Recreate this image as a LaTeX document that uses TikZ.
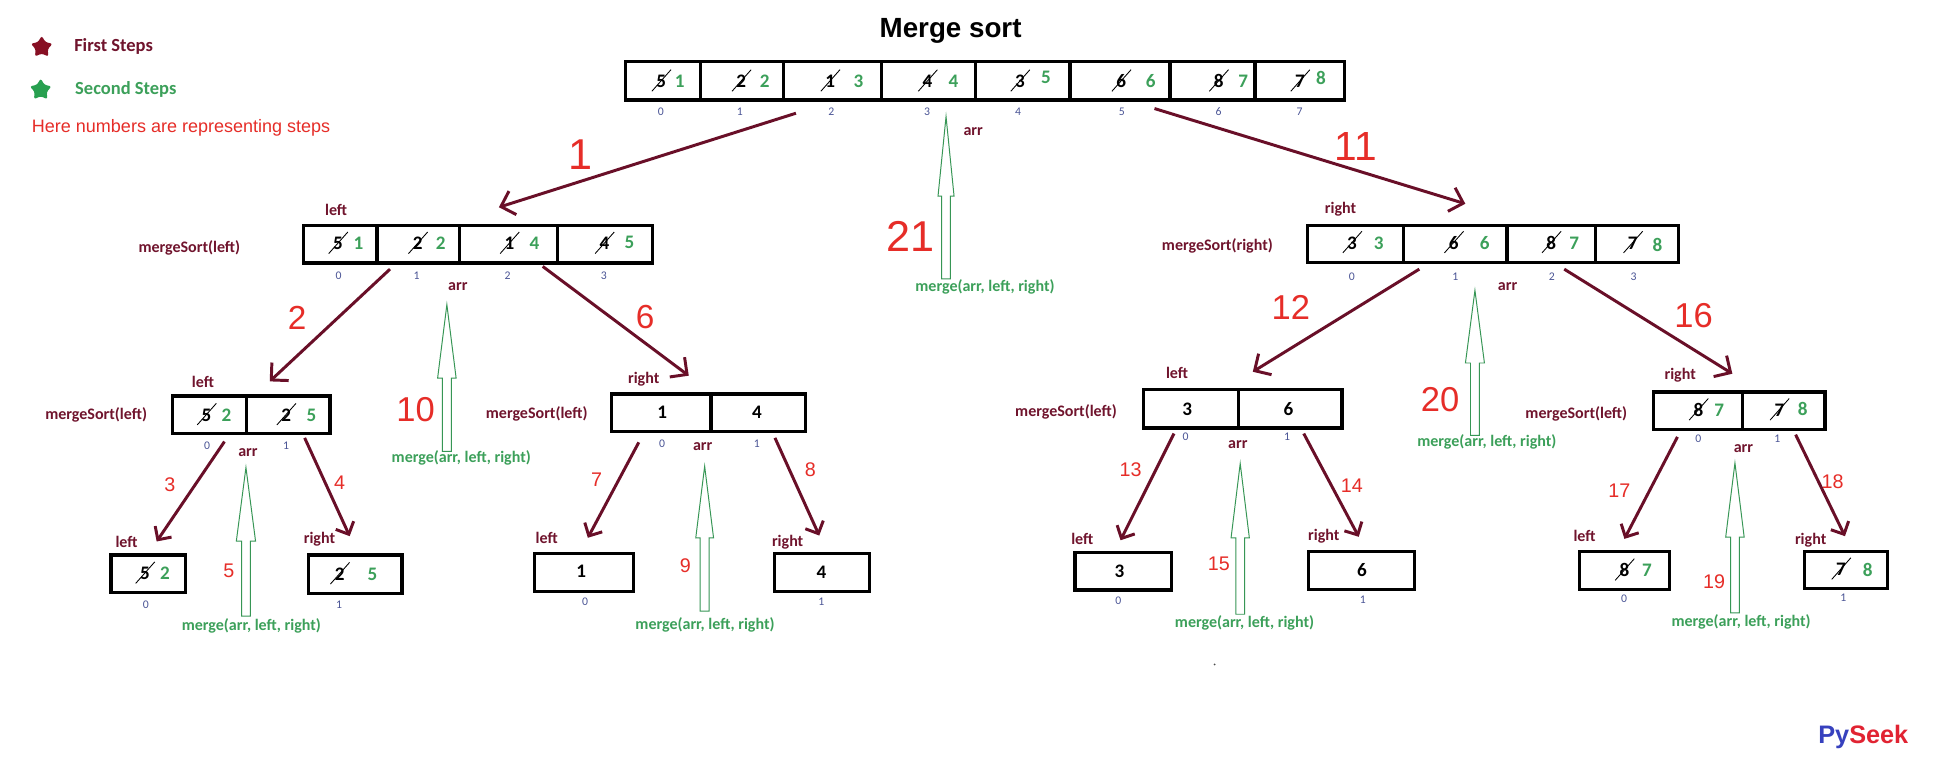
\documentclass[tikz,border=0pt]{standalone}
\usepackage{fontspec}
\setmainfont{Carlito}
\newfontfamily\arialf{Liberation Sans}
\usetikzlibrary{arrows.meta,shapes.geometric}
\definecolor{lblred}{RGB}{112,20,45}
\definecolor{arrowred}{RGB}{105,15,40}
\definecolor{gtext}{RGB}{60,160,90}
\definecolor{garrow}{RGB}{55,150,85}
\definecolor{stepred}{RGB}{230,45,40}
\definecolor{idxblue}{RGB}{75,85,150}
\definecolor{pyblue}{RGB}{55,65,190}
\definecolor{pyred}{RGB}{225,35,50}
\definecolor{starred}{RGB}{135,15,35}
\definecolor{stargreen}{RGB}{40,160,80}
\tikzset{
  cellbox/.style={draw=black, line width=2.6pt, inner sep=0pt, outer sep=0pt},
  bdig/.style={font=\fontsize{15.5}{15.5}\selectfont\bfseries, text=black, inner sep=0pt},
  gdig/.style={font=\fontsize{15.5}{15.5}\selectfont\bfseries, text=gtext, inner sep=0pt},
  slashline/.style={draw=black, line width=0.7pt},
  idx/.style={font=\fontsize{9.5}{9.5}\selectfont, text=idxblue, inner sep=0pt},
  lbl/.style={font=\fontsize{13}{13}\selectfont\bfseries, text=lblred, inner sep=0pt},
  mlbl/.style={font=\fontsize{13}{13}\selectfont\bfseries, text=gtext, inner sep=0pt},
  bignum/.style={font=\arialf\fontsize{35}{35}\selectfont, text=stepred, inner sep=0pt},
  midnum/.style={font=\arialf\fontsize{28}{28}\selectfont, text=stepred, inner sep=0pt},
  smallnum/.style={font=\arialf\fontsize{16}{16}\selectfont, text=stepred, inner sep=0pt},
  stepar/.style={draw=arrowred, line width=2.4pt, -{Straight Barb[length=8pt,width=16pt]}},
  bigar/.style={draw=arrowred, line width=2.4pt, -{Straight Barb[length=10pt,width=20pt]}},
  mergear/.style={draw=garrow, line width=0.8pt, fill=white},
  legstar/.style={star, star points=5, star point ratio=1.8, minimum size=18.5pt, inner sep=0pt, rounded corners=1.8pt},
}
% cell box: name, x1, x2, y1, y2
\newcommand\arrcell[5]{%
  \pgfmathsetmacro\mycw{#3-#2}\pgfmathsetmacro\mych{#5-#4}%
  \pgfmathsetmacro\mycx{(#2+#3)/2}\pgfmathsetmacro\mycy{(#4+#5)/2}%
  \node[cellbox, minimum width=\mycw pt, minimum height=\mych pt] (#1) at (\mycx,\mycy) {};}
% crossed digit: name, x, y, digit
\newcommand\crossdig[4]{%
  \node[bdig] (#1) at (#2,#3) {#4};
  \draw[slashline] ([shift={(-7.5,8)}]#1.center) -- ([shift={(8,-9.5)}]#1.center);}
% merge arrow: name, x, tip, base, bottom, head half width
\newcommand\mergeshaft[6]{%
  \coordinate (#1) at (#2,#3);
  \path[mergear] (#2-3.6,#5) -- (#2-3.6,#4) -- (#2-#6,#4) -- (#1) -- (#2+#6,#4) -- (#2+3.6,#4) -- (#2+3.6,#5) -- cycle;}
\begin{document}
\begin{tikzpicture}[x=1pt, y=-1pt]
\useasboundingbox (0,0) rectangle (1568,626.7);
\fill[white] (0,0) rectangle (1568,626.7);

% legend
\node[legstar, fill=starred] (s1) at (33.8,38.3) {};
\node[legstar, fill=stargreen] (s2) at (33,72.9) {};
\node[anchor=west, inner sep=0pt, font=\fontsize{15}{15}\selectfont\bfseries, text=lblred] (fs) at (60,37.3) {First Steps};
\node[anchor=west, inner sep=0pt, font=\fontsize{15}{15}\selectfont\bfseries, text=gtext] (ss) at (60.8,72.9) {Second Steps};
\node[anchor=west, inner sep=0pt, font=\arialf\fontsize{14.6}{15}\selectfont, text=stepred] (here) at (25.7,103.4) {Here numbers are representing steps};

% title
\node[inner sep=0pt, font=\arialf\fontsize{22.5}{23}\selectfont\bfseries] (title) at (770.7,25) {Merge sort};

% ---------- top array ----------
\arrcell{t0}{507}{568.2}{50}{81}
\arrcell{t1}{568.2}{635.1}{50}{81}
\arrcell{t2}{635.1}{714.6}{50}{81}
\arrcell{t3}{714.6}{790.7}{50}{81}
\arrcell{t4}{790.7}{867.5}{50}{81}
\arrcell{t5}{867.5}{948.6}{50}{81}
\arrcell{t6}{948.6}{1017.4}{50}{81}
\arrcell{t7}{1017.4}{1090}{50}{81}
\crossdig{t0b}{536}{66}{5} \node[gdig] (t0g) at (551,66) {1};
\crossdig{t1b}{601}{66}{2} \node[gdig] (t1g) at (620,66) {2};
\crossdig{t2b}{673}{66}{1} \node[gdig] (t2g) at (696,66) {3};
\crossdig{t3b}{752}{66}{4} \node[gdig] (t3g) at (773,66) {4};
\crossdig{t4b}{827}{66}{3} \node[gdig] (t4g) at (848,63) {5};
\crossdig{t5b}{909}{66}{6} \node[gdig] (t5g) at (933,66) {6};
\crossdig{t6b}{988}{66}{8} \node[gdig] (t6g) at (1008,66) {7};
\crossdig{t7b}{1054}{66}{7} \node[gdig] (t7g) at (1071,63.5) {8};
\node[idx] (ti0) at (535.7,90.5) {0};
\node[idx] (ti1) at (599.9,90.5) {1};
\node[idx] (ti2) at (674,90.5) {2};
\node[idx] (ti3) at (751.7,90.5) {3};
\node[idx] (ti4) at (825.5,90.5) {4};
\node[idx] (ti5) at (909.6,90.5) {5};
\node[idx] (ti6) at (987.9,90.5) {6};
\node[idx] (ti7) at (1053.7,90.5) {7};
\node[lbl] (tarr) at (789,106.8) {arr};
\mergeshaft{m21}{767}{94.5}{159}{226}{6.5}
\node[mlbl] (mt21) at (798.6,233) {merge(arr, left, right)};
\node[bignum] (n21) at (737.8,191.9) {21};

% ---------- level 1 left ----------
\arrcell{l0}{246}{305.6}{183}{213.3}
\arrcell{l1}{305.6}{372.6}{183}{213.3}
\arrcell{l2}{372.6}{452.3}{183}{213.3}
\arrcell{l3}{452.3}{528.7}{183}{213.3}
\crossdig{l0b}{274}{197.6}{5} \node[gdig] (l0g) at (290.6,197.6) {1};
\crossdig{l1b}{338.7}{197.6}{2} \node[gdig] (l1g) at (357.4,197.6) {2};
\crossdig{l2b}{413}{197.6}{1} \node[gdig] (l2g) at (433.4,197.6) {4};
\crossdig{l3b}{490}{197.6}{4} \node[gdig] (l3g) at (510.3,196.5) {5};
\node[idx] (li0) at (274.5,223.6) {0};
\node[idx] (li1) at (337.8,223.6) {1};
\node[idx] (li2) at (411.5,223.6) {2};
\node[idx] (li3) at (489.5,223.6) {3};
\node[lbl] (lname) at (272.5,170) {left};
\node[lbl] (lcall) at (153.5,201) {mergeSort(left)};
\node[lbl] (larr) at (371.2,232) {arr};
\mergeshaft{m10}{362.3}{247}{306.5}{366}{7.5}
\node[mlbl] (mt10) at (374,371.3) {merge(arr, left, right)};
\node[midnum] (n10) at (337,332) {10};

% ---------- level 1 right ----------
\arrcell{r0}{1060.3}{1138}{182.8}{212.8}
\arrcell{r1}{1138}{1221.8}{182.8}{212.8}
\arrcell{r2}{1221.8}{1293.3}{182.8}{212.8}
\arrcell{r3}{1293.3}{1360.8}{182.8}{212.8}
\crossdig{r0b}{1096.2}{197}{3} \node[gdig] (r0g) at (1117.8,197) {3};
\crossdig{r1b}{1178.6}{197}{6} \node[gdig] (r1g) at (1203.7,197) {6};
\crossdig{r2b}{1257.7}{197}{8} \node[gdig] (r2g) at (1276.3,197) {7};
\crossdig{r3b}{1323.8}{197}{7} \node[gdig] (r3g) at (1343.8,198.3) {8};
\node[idx] (ri0) at (1096,224) {0};
\node[idx] (ri1) at (1180,224) {1};
\node[idx] (ri2) at (1258.2,224) {2};
\node[idx] (ri3) at (1324.4,224) {3};
\node[lbl] (rname) at (1086.8,169.6) {right};
\node[lbl] (rcall) at (987,199) {mergeSort(right)};
\node[lbl] (rarr) at (1222.3,232.2) {arr};
\mergeshaft{m20}{1195.8}{235.4}{294.3}{353}{7.7}
\node[mlbl] (mt20) at (1205.5,358) {merge(arr, left, right)};
\node[midnum] (n20) at (1167.5,324) {20};

% ---------- level 2 A ----------
\arrcell{a0}{139.8}{199.8}{321}{351.6}
\arrcell{a1}{199.8}{267.6}{321}{351.6}
\crossdig{a0b}{167.4}{336.5}{5} \node[gdig] (a0g) at (183.6,336.5) {2};
\crossdig{a1b}{232}{336.5}{2} \node[gdig] (a1g) at (252.5,336.5) {5};
\node[idx] (ai0) at (168,361) {0};
\node[idx] (ai1) at (232,361) {1};
\node[lbl] (aname) at (164.6,310) {left};
\node[lbl] (acall) at (78,336) {mergeSort(left)};
\node[lbl] (aarr) at (201,367) {arr};
\mergeshaft{m5}{199.4}{379}{438.8}{499.5}{7.8}
\node[mlbl] (mt5) at (203.8,507.6) {merge(arr, left, right)};
\node[smallnum] (n5) at (185.5,463) {5};
% leaves A
\arrcell{aa}{90}{150.7}{450}{480.6}
\crossdig{aab}{117.5}{465}{5} \node[gdig] (aag) at (133.7,465) {2};
\node[idx] (aai) at (118.3,490) {0};
\node[lbl] (aaname) at (102.6,439.5) {left};
\arrcell{ab}{250}{326}{450}{481}
\crossdig{abb}{275.4}{465.5}{2} \node[gdig] (abg) at (301.9,465.5) {5};
\node[idx] (abi) at (275,490) {1};
\node[lbl] (abname) at (259,437.4) {right};

% ---------- level 2 B ----------
\arrcell{b0}{496}{576.5}{319.4}{349.7}
\arrcell{b1}{576.5}{653}{319.4}{349.7}
\node[bdig] (b0b) at (536.8,334.6) {1};
\node[bdig] (b1b) at (613.7,334.6) {4};
\node[idx] (bi0) at (536.8,359.6) {0};
\node[idx] (bi1) at (613.6,359.6) {1};
\node[lbl] (bname) at (521.9,307.2) {right};
\node[lbl] (bcall) at (435.2,335.6) {mergeSort(left)};
\node[lbl] (barr) at (569.7,361.8) {arr};
\mergeshaft{m9}{571.3}{378}{436}{495.5}{7.2}
\node[mlbl] (mt9) at (571.6,506.3) {merge(arr, left, right)};
\node[smallnum] (n9) at (555.7,459) {9};
\arrcell{ba}{433.4}{513.5}{448.7}{479.3}
\node[bdig] (bab) at (471.2,463) {1};
\node[idx] (bai) at (474.4,487.9) {0};
\node[lbl] (baname) at (443.3,436) {left};
\arrcell{bb}{627.8}{704.7}{449}{479.3}
\node[bdig] (bbb) at (666,463.9) {4};
\node[idx] (bbi) at (666,487.7) {1};
\node[lbl] (bbname) at (638.6,439.6) {right};

% ---------- level 2 C ----------
\arrcell{c0}{927.2}{1004}{316}{347}
\arrcell{c1}{1004}{1088}{316}{347}
\node[bdig] (c0b) at (962.6,331.5) {3};
\node[bdig] (c1b) at (1044.7,331.5) {6};
\node[idx] (ci0) at (961.2,354) {0};
\node[idx] (ci1) at (1043.6,354) {1};
\node[lbl] (cname) at (954.3,302) {left};
\node[lbl] (ccall) at (864.3,334) {mergeSort(left)};
\node[lbl] (carr) at (1003.6,360.5) {arr};
\mergeshaft{m15}{1005.5}{375.8}{436}{498}{7.4}
\node[mlbl] (mt15) at (1009,505.4) {merge(arr, left, right)};
\node[smallnum] (n15) at (988.2,456.8) {15};
\arrcell{ca}{871.6}{949.6}{448.2}{478.4}
\node[bdig] (cab) at (907.7,463) {3};
\node[idx] (cai) at (906.7,487.4) {0};
\node[lbl] (caname) at (877.5,436.9) {left};
\arrcell{cb}{1061}{1147}{447.4}{478}
\node[bdig] (cbb) at (1104.3,462.3) {6};
\node[idx] (cbi) at (1105,486) {1};
\node[lbl] (cbname) at (1073.3,434.7) {right};
\fill[black!70] (984.7,538.7) circle (0.8pt);

% ---------- level 2 D ----------
\arrcell{d0}{1340.6}{1412.9}{317.8}{348.3}
\arrcell{d1}{1412.9}{1479.6}{317.8}{348.3}
\crossdig{d0b}{1377}{332.6}{8} \node[gdig] (d0g) at (1393.8,332.6) {7};
\crossdig{d1b}{1442.6}{332.6}{7} \node[gdig] (d1g) at (1461.5,331.5) {8};
\node[idx] (di0) at (1377,355.6) {0};
\node[idx] (di1) at (1441,355.6) {1};
\node[lbl] (dname) at (1362.2,304.6) {right};
\node[lbl] (dcall) at (1278,335.3) {mergeSort(left)};
\node[lbl] (darr) at (1413.5,364) {arr};
\mergeshaft{m19}{1406.6}{375.3}{435.5}{496.8}{7.5}
\node[mlbl] (mt19) at (1411.6,504) {merge(arr, left, right)};
\node[smallnum] (n19) at (1389.7,471.7) {19};
\arrcell{da}{1280.6}{1353.5}{447.4}{477.9}
\crossdig{dab}{1317}{462.5}{8} \node[gdig] (dag) at (1335.2,462.5) {7};
\node[idx] (dai) at (1316.8,485.2) {0};
\node[lbl] (daname) at (1284.7,434.7) {left};
\arrcell{db}{1462.9}{1530}{446.9}{477.1}
\crossdig{dbb}{1492.6}{461.7}{7} \node[gdig] (dbg) at (1514.2,461.7) {8};
\node[idx] (dbi) at (1494.5,484.7) {1};
\node[lbl] (dbname) at (1468,438) {right};

% ---------- step arrows ----------
\coordinate (s1a) at (645.3,91.8);   \coordinate (e1a) at (404.5,168);
\coordinate (s11a) at (936,88);      \coordinate (e11a) at (1188,165.2);
\coordinate (s2a) at (316.2,218.2);  \coordinate (e2a) at (218.7,309.2);
\coordinate (s6a) at (440,216);      \coordinate (e6a) at (558.4,304.6);
\coordinate (s12a) at (1150.7,218.2);\coordinate (e12a) at (1015.7,301.4);
\coordinate (s16a) at (1268.2,218.2);\coordinate (e16a) at (1404.5,303);
\coordinate (s3a) at (182,358);      \coordinate (e3a) at (127,439);
\coordinate (s4a) at (247,355);      \coordinate (e4a) at (283.5,434.7);
\coordinate (s7a) at (517.9,358.6);  \coordinate (e7a) at (476.6,436);
\coordinate (s8a) at (628.3,355);    \coordinate (e8a) at (664.2,434.2);
\coordinate (s13a) at (951.8,351.5); \coordinate (e13a) at (908.5,438);
\coordinate (s14a) at (1057,351.5);  \coordinate (e14a) at (1101.6,435.2);
\coordinate (s17a) at (1360,354.2);  \coordinate (e17a) at (1317,436.9);
\coordinate (s18a) at (1455.8,352.4);\coordinate (e18a) at (1495.8,434.7);
\draw[bigar] (s1a) -- (e1a);
\draw[bigar] (s11a) -- (e11a);
\draw[bigar] (s2a) -- (e2a);
\draw[bigar] (s6a) -- (e6a);
\draw[bigar] (s12a) -- (e12a);
\draw[bigar] (s16a) -- (e16a);
\draw[stepar] (s3a) -- (e3a);
\draw[stepar] (s4a) -- (e4a);
\draw[stepar] (s7a) -- (e7a);
\draw[stepar] (s8a) -- (e8a);
\draw[stepar] (s13a) -- (e13a);
\draw[stepar] (s14a) -- (e14a);
\draw[stepar] (s17a) -- (e17a);
\draw[stepar] (s18a) -- (e18a);

% step numbers
\node[bignum] (n1) at (470.3,125.7) {1};
\node[bignum, font=\arialf\fontsize{33}{33}\selectfont] (n11) at (1099,118.8) {11};
\node[midnum, font=\arialf\fontsize{27}{27}\selectfont] (n2) at (241,258) {2};
\node[midnum, font=\arialf\fontsize{27}{27}\selectfont] (n6) at (523,257.3) {6};
\node[midnum] (n12) at (1046.5,249.3) {12};
\node[midnum] (n16) at (1373,256) {16};
\node[smallnum] (n3) at (137.7,393) {3};
\node[smallnum] (n4) at (275.4,391) {4};
\node[smallnum] (n7) at (483.8,388.8) {7};
\node[smallnum] (n8) at (657,380.7) {8};
\node[smallnum] (n13) at (916.6,380.7) {13};
\node[smallnum] (n14) at (1096,393.7) {14};
\node[smallnum] (n17) at (1312.8,397.7) {17};
\node[smallnum] (n18) at (1485.8,390.2) {18};

% brand
\node[anchor=west, inner sep=0pt, font=\arialf\fontsize{20.5}{21}\selectfont\bfseries] (brand) at (1474,597.5) {\textcolor{pyblue}{Py}\textcolor{pyred}{Seek}};
\end{tikzpicture}
\end{document}
